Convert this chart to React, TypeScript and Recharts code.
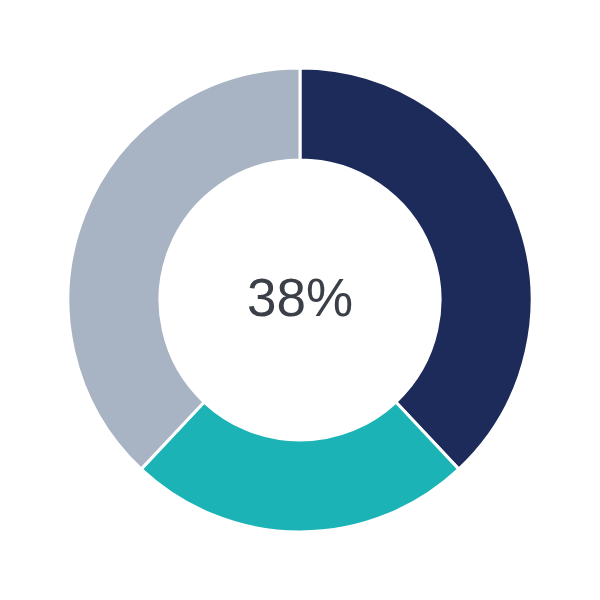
import { PieChart, Pie, Cell } from "recharts";

const segments = ["Primary", "Secondary", "Other"];
const shares = [38, 24, 38];
const colors = ["#1c2b5a", "#1bb3b5", "#a8b4c3"];
const centerLabel = "38%";

const data = segments.map((name, i) => ({ name, value: shares[i] }));

const App = () => {
  return (
    <div
      style={{
        position: "absolute",
        left: 0,
        top: 0,
        width: 600,
        height: 600,
        background: "#fff",
      }}
    >
      <PieChart
        width={600}
        height={600}
        margin={{ top: 0, right: 0, bottom: 0, left: 0 }}
      >
        <Pie
          data={data}
          dataKey="value"
          cx={300}
          cy={300}
          innerRadius={140}
          outerRadius={232}
          startAngle={90}
          endAngle={-270}
          stroke="#fff"
          strokeWidth={3}
          isAnimationActive={false}
        >
          {data.map((d, i) => (
            <Cell key={d.name} fill={colors[i]} />
          ))}
        </Pie>
        <text
          x={300}
          y={297}
          textAnchor="middle"
          dominantBaseline="central"
          fontFamily="Liberation Sans, Arial, sans-serif"
          fontSize={53}
          fill="#3a3f48"
        >
          {centerLabel}
        </text>
      </PieChart>
    </div>
  );
};

export default App;
